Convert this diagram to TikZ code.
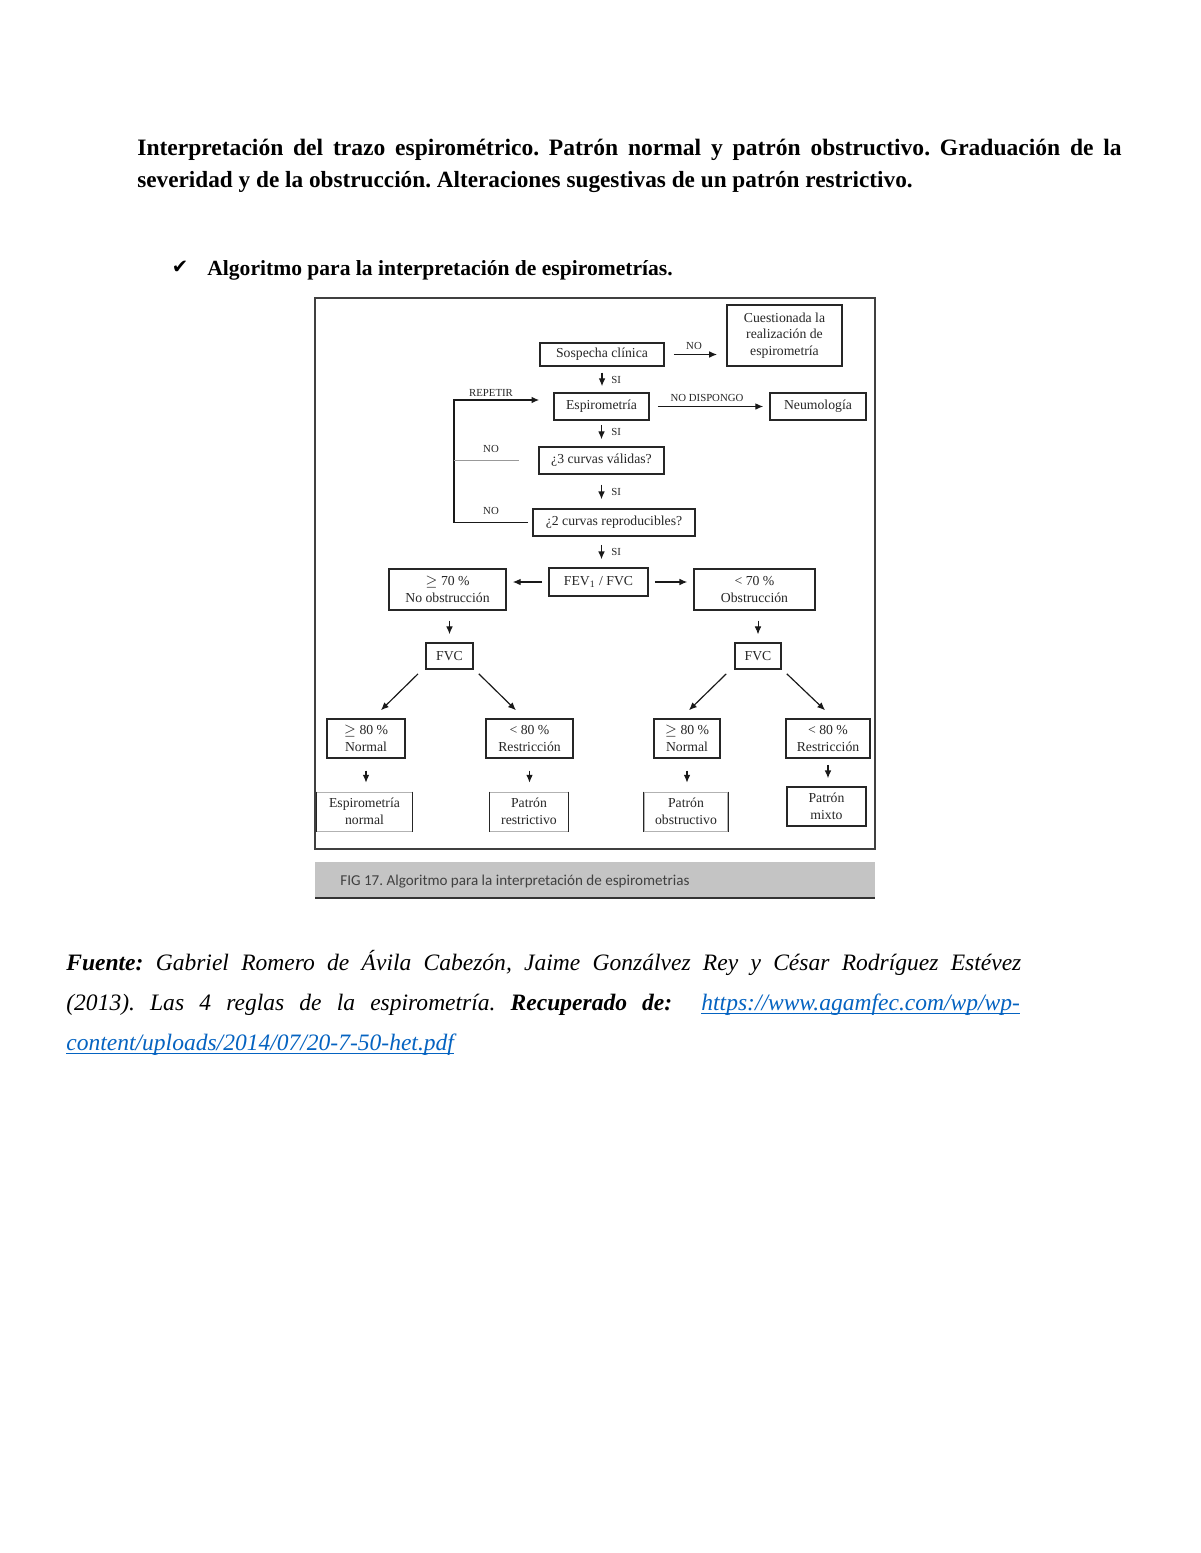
\documentclass[tikz,border=0pt]{standalone}
\usepackage{fontspec}
\setmainfont{Liberation Serif}
\newfontfamily\capfont{Carlito}
\newfontfamily\symfont{DejaVu Sans}
\usetikzlibrary{arrows.meta}
\definecolor{linkblue}{HTML}{0563C1}
\frenchspacing
\begin{document}
\begin{tikzpicture}[x=0.51pt,y=-0.51pt,
  box/.style={draw=black!85, line width=0.9pt, inner sep=0pt, align=center, text=black!85, font=\fontsize{7}{8.4}\selectfont},
  fbox/.style={draw=black!30, line width=0.5pt, inner sep=0pt, align=center, text=black!85, font=\fontsize{7}{8.4}\selectfont},
  lbl/.style={inner sep=0pt, text=black!85, font=\fontsize{5.5}{6}\selectfont},
  arr/.style={-{Latex[length=4pt,width=3.4pt]}, line width=0.6pt, black!90},
  txt/.style={inner sep=0pt, anchor=base west}]
\fill[white] (0,0) rectangle (1200,1553);
\useasboundingbox (0,0) rectangle (1200,1553);

% heading
\node[txt, font=\bfseries\fontsize{12}{14}\selectfont\frenchspacing] (t1) at (137,156) {\makebox[502pt][s]{Interpretación del trazo espirométrico. Patrón normal y patrón obstructivo. Graduación de la}};
\node[txt, font=\bfseries\fontsize{11.85}{14}\selectfont\frenchspacing] (t2) at (137,188) {severidad y de la obstrucción. Alteraciones sugestivas de un patrón restrictivo.};
\node[inner sep=0pt, font=\symfont\fontsize{10}{12}\selectfont] (chk) at (180,267) {✔};
\node[txt, font=\bfseries\fontsize{11}{13}\selectfont] (t3) at (207,276) {Algoritmo para la interpretación de espirometrías.};

% frame and caption
\draw[black!75, line width=0.9pt] (315,298) rectangle (875,849);
\fill[black!23] (315,862) rectangle (875,897);
\draw[black!80, line width=1pt] (315,898) -- (875,898);
\node[txt, font=\capfont\fontsize{7.7}{9}\selectfont, text=black!75] (cap) at (340,885) {FIG 17. Algoritmo para la interpretación de espirometrias};

% boxes
\node[box, minimum width=63.2pt, minimum height=11.7pt] (sosp) at (602,354.5) {Sospecha clínica};
\node[box, minimum width=58.7pt, minimum height=31.1pt] (cuest) at (784.5,335.5) {Cuestionada la\\realización de\\espirometría};
\node[box, minimum width=48.5pt, minimum height=13.8pt] (esp) at (601.5,406.5) {Espirometría};
\node[box, minimum width=49pt, minimum height=13.8pt] (neum) at (818,406.5) {Neumología};
\node[box, minimum width=63.8pt, minimum height=13.8pt] (c3) at (601.5,460.5) {¿3 curvas válidas?};
\node[box, minimum width=82.6pt, minimum height=13.8pt] (c2) at (614,522.5) {¿2 curvas reproducibles?};
\node[box, minimum width=50.5pt, minimum height=14.3pt] (fev) at (598.5,582) {FEV\textsubscript{1} / FVC};
\node[box, minimum width=59.7pt, minimum height=20.9pt] (ge70) at (447.5,589.5) {$\geq$ 70 \%\\No obstrucción};
\node[box, minimum width=61.7pt, minimum height=20.9pt] (lt70) at (754.5,589.5) {< 70 \%\\Obstrucción};
\node[box, minimum width=24pt, minimum height=13.3pt] (fvcl) at (449.5,656) {FVC};
\node[box, minimum width=23.5pt, minimum height=13.3pt] (fvcr) at (758,656) {FVC};
\node[box, minimum width=39.8pt, minimum height=19.9pt] (n1) at (366,738.5) {$\geq$ 80 \%\\Normal};
\node[box, minimum width=44.4pt, minimum height=19.9pt] (r1) at (529.5,738.5) {< 80 \%\\Restricción};
\node[box, minimum width=33.7pt, minimum height=19.9pt] (n2) at (687,738.5) {$\geq$ 80 \%\\Normal};
\node[box, minimum width=42.8pt, minimum height=19.9pt] (r2) at (828,738.5) {< 80 \%\\Restricción};
\node[fbox, minimum width=48.5pt, minimum height=19.9pt] (f1) at (364.5,811.5) {Espirometría\\normal};
\node[fbox, minimum width=39.8pt, minimum height=19.9pt] (f2) at (529,811.5) {Patrón\\restrictivo};
\node[fbox, minimum width=42.8pt, minimum height=19.9pt] (f3) at (686,811.5) {Patrón\\obstructivo};
\node[box, minimum width=40.3pt, minimum height=19.9pt] (f4) at (826.5,806.5) {Patrón\\mixto};
\foreach \f in {f1,f2,f3}{
  \draw[black!85, line width=0.9pt] (\f.north west) -- (\f.south west);
  \draw[black!85, line width=0.9pt] (\f.north east) -- (\f.south east);
}

% vertical SI arrows
\draw[arr, shorten <=3pt, shorten >=3pt] (sosp.south) -- (sosp.south |- esp.north);
\node[lbl, anchor=west] (si1) at (611,380) {SI};
\draw[arr, shorten <=2pt, shorten >=3.5pt] (esp.south) -- (esp.south |- c3.north);
\node[lbl, anchor=west] (si2) at (611,432) {SI};
\draw[arr, shorten <=5pt, shorten >=4.5pt] (c3.south) -- (c3.south |- c2.north);
\node[lbl, anchor=west] (si3) at (611,492) {SI};
\draw[arr, shorten <=4pt, shorten >=4pt] (c3.south |- c2.south) -- (c3.south |- fev.north);
\node[lbl, anchor=west] (si4) at (611,552) {SI};

% horizontal arrows
\draw[arr, shorten <=4.6pt, shorten >=4.6pt] (sosp.east) -- (sosp.east -| cuest.west);
\node[lbl] (no1) at (694,346) {NO};
\draw[arr, shorten <=4pt, shorten >=3pt] (esp.east) -- (neum.west);
\node[lbl] (nod) at (707,398) {NO DISPONGO};
\draw[arr, shorten <=3pt, shorten >=3pt] (fev.west) -- (fev.west -| ge70.east);
\draw[arr, shorten <=3pt, shorten >=3pt] (fev.east) -- (fev.east -| lt70.west);

% loop
\coordinate (lb) at (454,522.5);
\coordinate (lt) at (454,400);
\draw[-{Latex[length=4pt,width=3.4pt]}, line width=0.8pt, black!90] ([xshift=-2pt]c2.west) -- (lb) -- (lt) -- ([xshift=-7pt]esp.west |- lt);
\draw[black!40, line width=0.4pt] (lb |- c3.west) -- ([xshift=-9.7pt]c3.west);
\node[lbl] (rep) at (491,393) {REPETIR};
\node[lbl] (no2) at (491,449) {NO};
\node[lbl] (no3) at (491,511) {NO};

% down to FVC
\draw[arr, shorten <=5pt, shorten >=4pt] (ge70.south -| fvcl.north) -- (fvcl.north);
\draw[arr, line width=0.4pt, shorten <=5pt, shorten >=4pt] (lt70.south -| fvcr.north) -- (fvcr.north);

% diagonals
\draw[arr] ([shift={(-3.6pt,-2pt)}]fvcl.south west) -- ([shift={(7.6pt,4pt)}]n1.north);
\draw[arr] ([shift={(2.5pt,-2pt)}]fvcl.south east) -- ([shift={(-6.9pt,4pt)}]r1.north);
\draw[arr] ([shift={(-4pt,-2pt)}]fvcr.south west) -- ([shift={(1pt,4pt)}]n2.north);
\draw[arr] ([shift={(2.5pt,-2pt)}]fvcr.south east) -- ([shift={(-1.5pt,4pt)}]r2.north);

% down to results
\draw[arr, shorten <=6pt, shorten >=4.5pt] (n1.south) -- (n1.south |- f1.north);
\draw[arr, shorten <=6pt, shorten >=4.5pt] (r1.south) -- (r1.south |- f2.north);
\draw[arr, shorten <=6pt, shorten >=4.5pt] (n2.south) -- (n2.south |- f3.north);
\draw[arr, shorten <=3pt, shorten >=4pt] (r2.south) -- (r2.south |- f4.north);

% source
\node[txt, font=\itshape\fontsize{12}{14}\selectfont\frenchspacing] (s1) at (66,970) {\makebox[487pt][s]{\textbf{Fuente:} Gabriel Romero de Ávila Cabezón, Jaime Gonzálvez Rey y César Rodríguez Estévez}};
\node[txt, font=\itshape\fontsize{12}{14}\selectfont\frenchspacing] (s2) at (66,1010) {\makebox[309pt][s]{(2013). Las 4 reglas de la espirometría. \textbf{Recuperado de:}}};
\node[txt, font=\itshape\fontsize{12}{14}\selectfont, text=linkblue] (u1) at (701,1010) {https://www.agamfec.com/wp/wp-};
\node[txt, font=\itshape\fontsize{12}{14}\selectfont, text=linkblue] (u2) at (66,1050) {content/uploads/2014/07/20-7-50-het.pdf};
\draw[linkblue, line width=0.5pt] ([yshift=-2pt]u1.base west) -- ([yshift=-2pt]u1.base east);
\draw[linkblue, line width=0.5pt] ([yshift=-2pt]u2.base west) -- ([yshift=-2pt]u2.base east);
\end{tikzpicture}
\end{document}
